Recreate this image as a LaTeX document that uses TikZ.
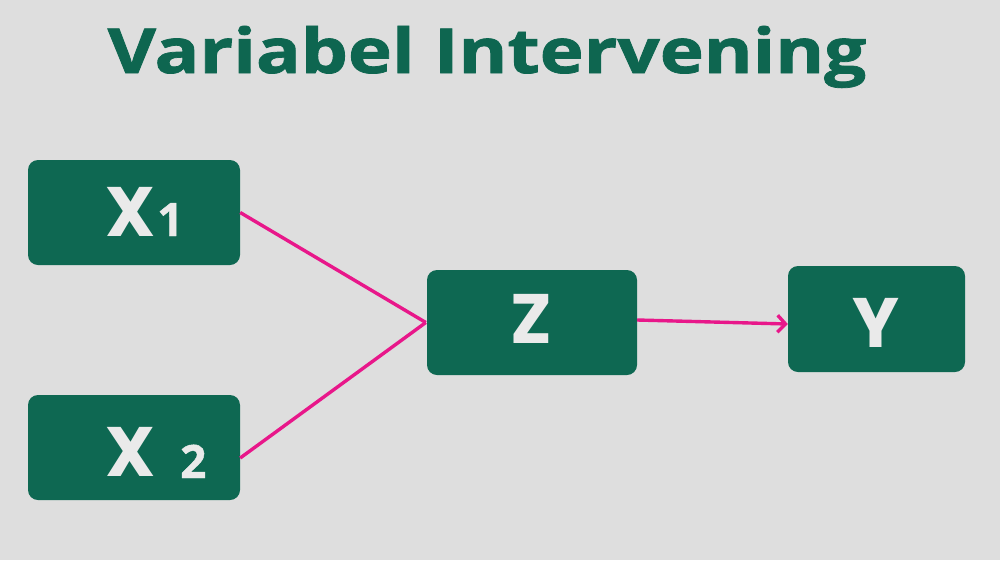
\documentclass[tikz,border=0pt]{standalone}
\usepackage{fontspec}
\setmainfont{Open Sans}
\newfontfamily\boxfont{Poppins}
\newfontfamily\subfont{Open Sans}[BoldFeatures={FakeBold=1}]
\newfontfamily\titlefont{Open Sans}[BoldFeatures={FakeBold=1.2}]
\usetikzlibrary{arrows.meta}
\definecolor{bg}{HTML}{DEDEDE}
\definecolor{boxgreen}{HTML}{0E6852}
\definecolor{titlegreen}{HTML}{0E6650}
\definecolor{pinkline}{HTML}{E8178A}
\definecolor{lettergray}{HTML}{EAEAEA}
\begin{document}
\begin{tikzpicture}[x=1pt,y=-1pt,
  varbox/.style={fill=boxgreen,draw=none,rounded corners=10pt,inner sep=0pt,minimum height=105pt},
  letter/.style={text=lettergray,inner sep=0pt,anchor=base west,font=\boxfont\bfseries\fontsize{70}{70}\selectfont},
  sub/.style={text=lettergray,inner sep=0pt,anchor=base west,font=\subfont\bfseries\fontsize{46}{46}\selectfont},
  conn/.style={draw=pinkline,line width=3.4pt}]
\fill[bg] (0,0) rectangle (1000,560);
\useasboundingbox (0,0) rectangle (1000,560);
\node[text=titlegreen,inner sep=0pt,anchor=base,xscale=1.2,font=\titlefont\bfseries\fontsize{62}{62}\selectfont] (title) at (487,73) {Variabel Intervening};
\node[varbox,minimum width=212pt] (bx1) at (134,212.5) {};
\node[varbox,minimum width=212pt] (bx2) at (134,447.5) {};
\node[varbox,minimum width=210pt] (bz) at (532,322.5) {};
\node[varbox,minimum width=177pt,minimum height=106pt] (by) at (876.5,319) {};
\node[letter] (lx1) at (105,236) {X};
\node[sub] (s1) at (157,236) {1};
\node[letter] (lx2) at (105,476) {X};
\node[sub] (s2) at (180,478) {2};
\node[letter,anchor=base] (lz) at (531,343) {Z};
\node[letter,anchor=base] (ly) at (876,347) {Y};
\draw[conn] (bx1.east) -- ([xshift=-1pt]bz.west);
\draw[conn] ([yshift=-10.5pt]bx2.east) -- ([xshift=-1pt]bz.west);
\draw[conn,-{Straight Barb[length=8pt,width=17pt]}] ([yshift=2.5pt]bz.east) -- ([yshift=-5pt]by.west);
\end{tikzpicture}
\end{document}
